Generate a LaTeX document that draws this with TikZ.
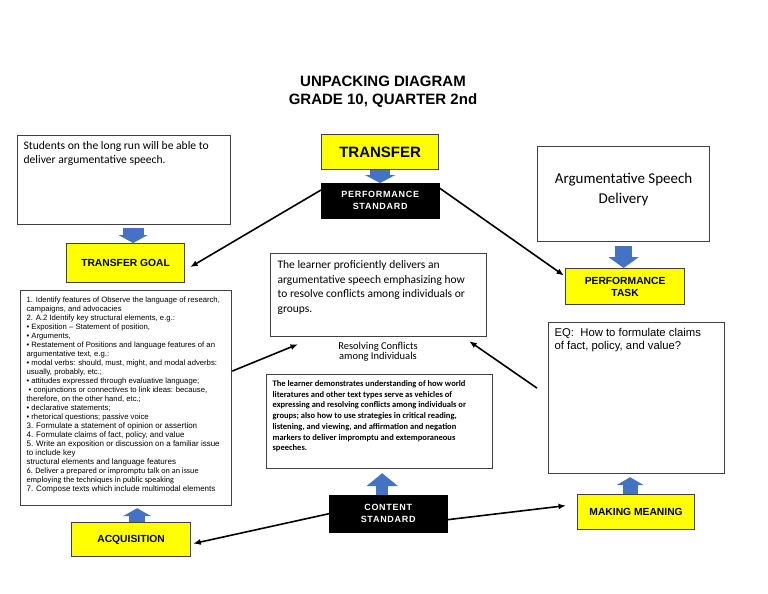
\documentclass[tikz,border=0pt]{standalone}
\usepackage{fontspec}
\setmainfont{Carlito}
\newfontfamily\arialfont{Liberation Sans}
\usetikzlibrary{arrows.meta}

\definecolor{boxgray}{HTML}{404040}
\definecolor{hiyellow}{HTML}{FFFF00}
\definecolor{fatblue}{HTML}{4472C4}

% Text that starts at the top of a box
\newcommand\topbox[3]{\parbox[c][#2][t]{#1}{\raggedright #3}}

\tikzset{
  txtbox/.style={draw=boxgray, line width=1.2pt, fill=white, anchor=north west, inner sep=6pt},
  yellowbox/.style={draw=boxgray, line width=1.2pt, fill=hiyellow, anchor=north west, inner sep=0pt,
    align=center, font=\arialfont\bfseries\fontsize{10.3}{12}\selectfont},
  blackbox/.style={draw=black, fill=black, text=white, anchor=north west, inner sep=0pt, align=center,
    font=\arialfont\bfseries\fontsize{9}{12}\selectfont\addfontfeature{LetterSpace=8}},
  titletext/.style={align=center, inner sep=0pt, font=\arialfont\bfseries\fontsize{15}{18}\selectfont},
  fatarrow/.style n args={3}{draw=fatblue, line width=#1, -{Triangle[length=#2, width=#3]}},
  conn/.style={line width=1.6pt, -{Latex[length=7.5pt, width=6pt]}}
}

\begin{document}
\begin{tikzpicture}[x=1pt, y=-1pt]
  % Page size
  \fill[white] (0, 0) rectangle (768, 594);
  \useasboundingbox (0, 0) rectangle (768, 594);
  % Add title
  \node[titletext] (title) at (383, 91.5) {UNPACKING DIAGRAM\\GRADE 10, QUARTER 2nd};
  % Draw transfer goal side
  \node[txtbox] (tgtext) at (17, 135) {\topbox{201pt}{77pt}{\fontsize{11.6}{13.5}\selectfont
    Students on the long run will be able to\\deliver argumentative speech.}};
  \node[yellowbox, minimum width=118pt, minimum height=39pt] (goal) at (66, 243) {TRANSFER GOAL};
  % Draw transfer and performance standard
  \node[yellowbox, minimum width=117pt, minimum height=35pt, font=\arialfont\bfseries\fontsize{15}{18}\selectfont] (transfer) at (321, 134) {TRANSFER};
  \node[blackbox, minimum width=118pt, minimum height=35pt] (perfstd) at (321, 183) {PERFORMANCE\\STANDARD};
  \node[txtbox, inner sep=7pt] (pstext) at (270, 253) {\topbox{202pt}{69pt}{\fontsize{11.5}{14.5}\selectfont
    The learner proficiently delivers an\\argumentative speech emphasizing how\\to resolve conflicts among individuals or\\groups.}};
  \node[align=center, font=\fontsize{10.5}{10.5}\selectfont] (resolve) at (378, 352) {Resolving Conflicts\\among Individuals};
  % Draw performance task side
  \node[txtbox] (delivery) at (537, 146) {\topbox{160pt}{83pt}{\centering\fontsize{15}{20}\selectfont
    \vspace*{20pt}Argumentative Speech\\Delivery}};
  \node[yellowbox, minimum width=119pt, minimum height=36pt] (ptask) at (565, 268) {PERFORMANCE\\TASK};
  % Draw making meaning side
  \node[txtbox] (eqbox) at (548, 322) {\topbox{164pt}{139pt}{\arialfont\fontsize{11.3}{13}\selectfont
    EQ:\ \ How to formulate claims\\of fact, policy, and value?}};
  \node[yellowbox, minimum width=117pt, minimum height=35pt] (making) at (577, 494) {MAKING MEANING};
  % Draw acquisition side
  \node[txtbox] (acqtext) at (20, 290) {\topbox{199pt}{203pt}{\arialfont\fontsize{7.7}{9}\selectfont
    1. Identify features of Observe the language of research,\\
    campaigns, and advocacies\\
    2. A.2 Identify key structural elements, e.g.:\\
    • Exposition – Statement of position,\\
    • Arguments,\\
    • Restatement of Positions and language features of an\\
    argumentative text, e.g.:\\
    • modal verbs: should, must, might, and modal adverbs:\\
    usually, probably, etc.;\\
    • attitudes expressed through evaluative language;\\
    \ • conjunctions or connectives to link ideas: because,\\
    therefore, on the other hand, etc.;\\
    • declarative statements;\\
    • rhetorical questions; passive voice\\
    \fontsize{8}{9}\selectfont
    3. Formulate a statement of opinion or assertion\\
    4. Formulate claims of fact, policy, and value\\
    5. Write an exposition or discussion on a familiar issue\\
    to include key\\
    structural elements and language features\\
    {\normalfont\fontsize{8.2}{9}\selectfont 6. Deliver a prepared or impromptu talk on an issue\\
    employing the techniques in public speaking}\\
    7. Compose texts which include multimodal elements}};
  \node[yellowbox, minimum width=119pt, minimum height=34pt] (acq) at (71, 522) {ACQUISITION};
  % Draw content standard
  \node[txtbox] (cstext) at (266, 374) {\topbox{214pt}{82pt}{\bfseries\fontsize{8.5}{10.7}\selectfont
    The learner demonstrates understanding of how world\\
    literatures and other text types serve as vehicles of\\
    expressing and resolving conflicts among individuals or\\
    groups; also how to use strategies in critical reading,\\
    listening, and viewing, and affirmation and negation\\
    markers to deliver impromptu and extemporaneous\\
    speeches.}};
  \node[blackbox, minimum width=118pt, minimum height=37pt] (cstd) at (329, 495) {CONTENT\\STANDARD};
  % Draw blue arrows (kept vertical)
  \coordinate (tgfoot) at ([xshift=9pt]tgtext.south);
  \coordinate (mmhead) at ([xshift=-6pt]making.north);
  \coordinate (acqhead) at ([xshift=6pt]acq.north);
  \coordinate (cshead) at ([xshift=-6pt]cstd.north);
  \draw[fatarrow={20pt}{8pt}{30pt}] (transfer.south) -- (transfer.south |- perfstd.north);
  \draw[fatarrow={21pt}{8pt}{29pt}, shorten <=3pt] (tgfoot) -- (tgfoot |- goal.north);
  \draw[fatarrow={17pt}{11pt}{30pt}, shorten <=4pt] (delivery.south) -- (delivery.south |- ptask.north);
  \draw[fatarrow={15pt}{8pt}{27pt}, shorten >=3pt] (mmhead) -- (mmhead |- eqbox.south);
  \draw[fatarrow={16pt}{8pt}{28pt}, shorten >=2pt] (acqhead) -- (acqhead |- acqtext.south);
  \draw[fatarrow={12pt}{13pt}{31pt}, shorten >=4pt] (cshead) -- (cshead |- cstext.south);
  % Draw black connectors
  \draw[conn] ([yshift=-7pt]perfstd.north west) -- ([xshift=5pt, yshift=-4pt]goal.east);
  \draw[conn] ([yshift=-5pt]perfstd.north east) -- ([xshift=-1pt, yshift=11pt]ptask.west);
  \draw[conn] ([yshift=27pt]acqtext.east) -- ([xshift=28pt, yshift=-7pt]pstext.south west);
  \draw[conn] ([xshift=-11pt, yshift=10pt]eqbox.west) -- ([xshift=-18pt, yshift=-4pt]pstext.south east);
  \draw[conn] (cstd.west) -- ([xshift=2pt, yshift=-4pt]acq.east);
  \draw[conn] ([yshift=-6pt]cstd.east) -- ([xshift=-11pt, yshift=6.5pt]making.west);
\end{tikzpicture}
\end{document}
